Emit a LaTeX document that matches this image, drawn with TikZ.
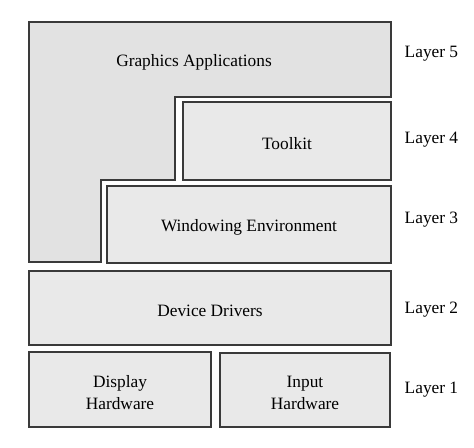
\documentclass[tikz,border=0pt]{standalone}
\usepackage{fontspec}
\setmainfont{Liberation Serif}
\usepackage{tikz}
\usetikzlibrary{fit, positioning}
\definecolor{edgegray}{HTML}{3A3A3A}
\definecolor{topfill}{HTML}{E2E2E2}
\definecolor{boxfill}{HTML}{E9E9E9}
\tikzset{
x=0.75pt, y=-0.75pt, % pixel-like grid, y runs down
every node/.style={font=\fontsize{13}{17}\selectfont}, % text size for all labels
layerbox/.style={draw=edgegray, line width=1.4pt, fill=boxfill, inner sep=0pt}, % one block of the stack
boxtxt/.style={label={[align=center, yshift=-2.2pt]center:#1}}, % caption inside a block
layertxt/.style={anchor=west}, % layer names on the right
}
\begin{document}
\begin{tikzpicture}
                \useasboundingbox (0,0) rectangle (474,448);
                % layer 5 is an L-shaped block
                \draw[draw=edgegray, line width=1.4pt, fill=topfill, line join=miter]
                    (29,22) -- (391,22) -- (391,97) -- (175,97) -- (175,180)
                    -- (101,180) -- (101,262) -- (29,262) -- cycle;
                \node (gfx) at (194,62) {Graphics Applications};
                \node[layerbox, fit={(183,102) (391,180)}, boxtxt=Toolkit] (tk) {};
                \node[layerbox, fit={(107,186) (391,263)}, boxtxt=Windowing Environment] (win) {};
                \node[layerbox, fit={(29,271) (391,345)}, boxtxt=Device Drivers] (dev) {};
                \node[layerbox, fit={(29,352) (211,427)}, boxtxt={Display\\Hardware}] (disp) {};
                \node[layerbox, fit={(220,353) (390,427)}, boxtxt={Input\\Hardware}] (inp) {};
                \node[layertxt] (l5) at (400,54) {Layer 5};
                \node[layertxt] (l4) at (400,140) {Layer 4};
                \node[layertxt] (l3) at (400,220) {Layer 3};
                \node[layertxt] (l2) at (400,310) {Layer 2};
                \node[layertxt] (l1) at (400,390) {Layer 1};
            \end{tikzpicture}
\end{document}
